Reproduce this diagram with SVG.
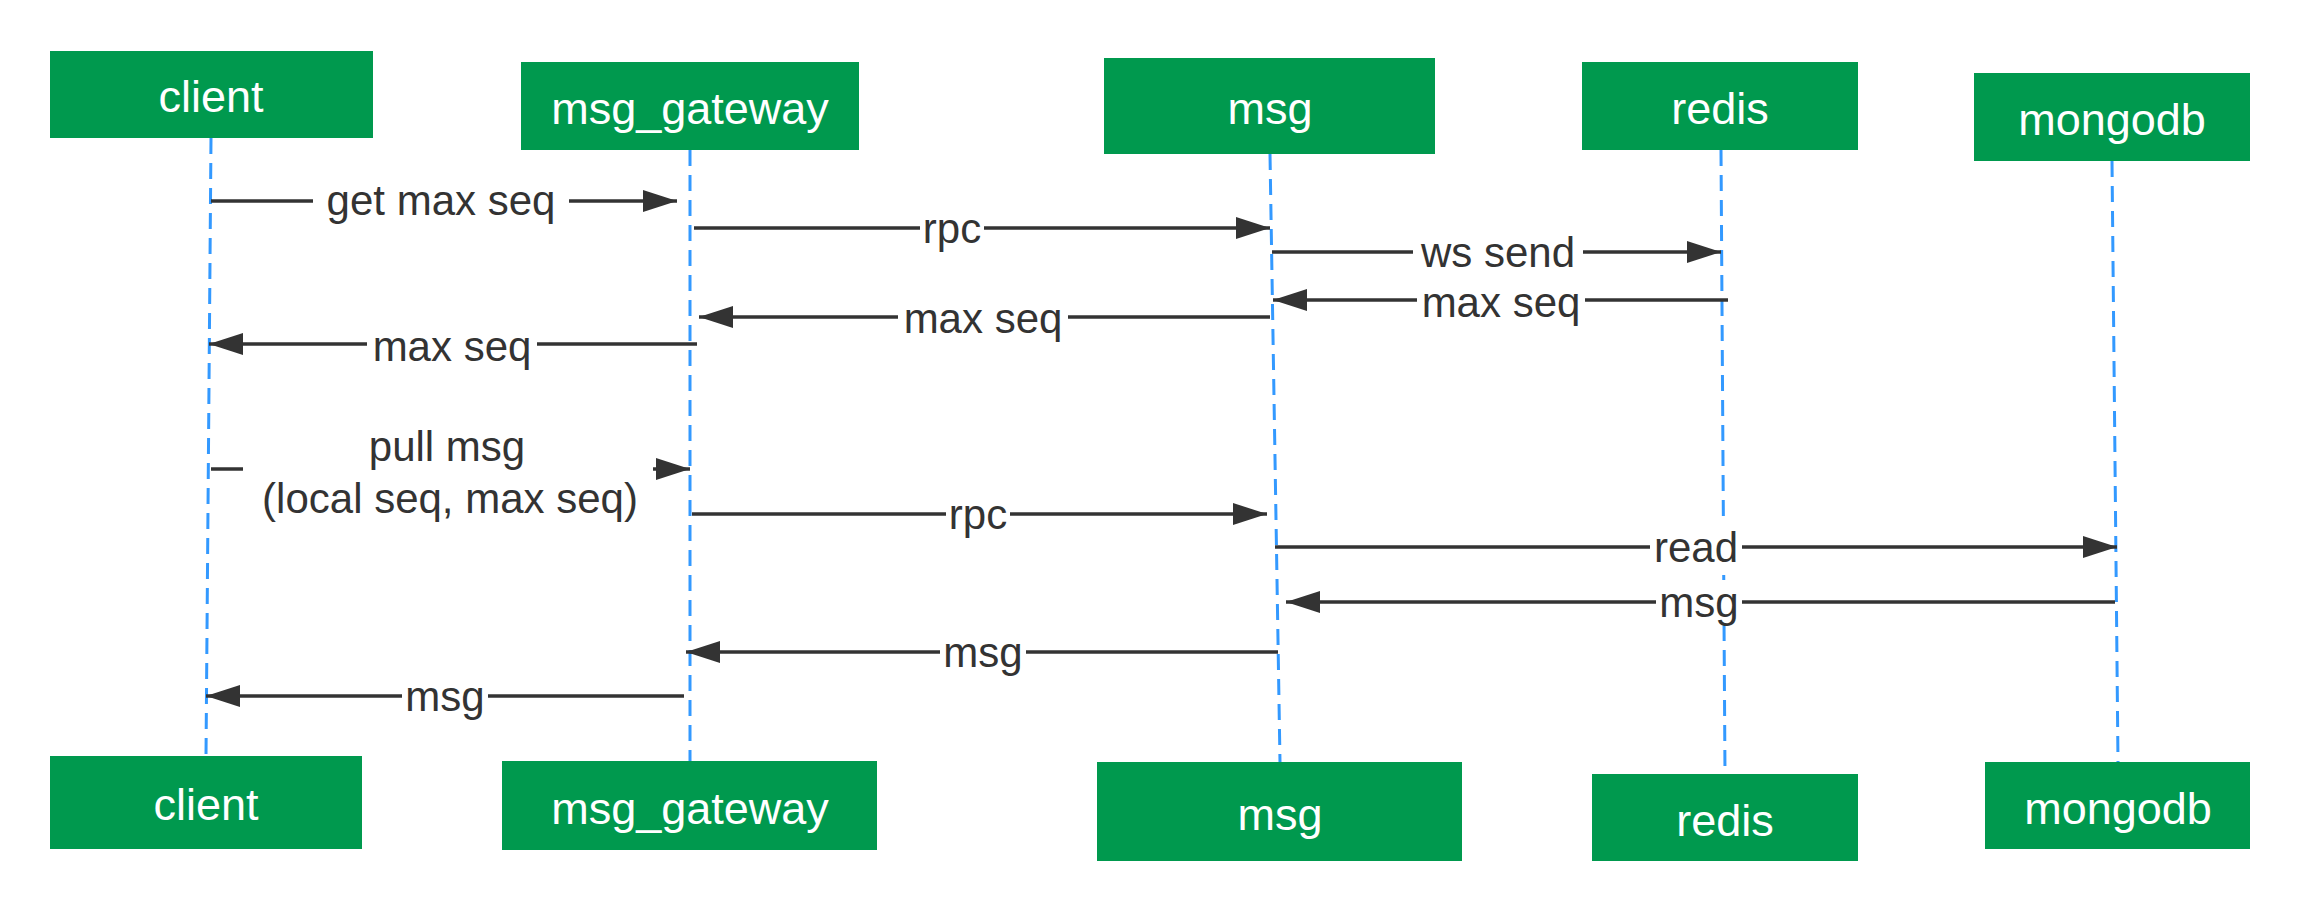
<svg xmlns="http://www.w3.org/2000/svg" width="2299" height="912" viewBox="0 0 2299 912">
<style>
.box{fill:#00994e}
.nl{fill:#fff;font-family:"Liberation Sans",Arial,sans-serif;font-size:45px;text-anchor:middle;dominant-baseline:central}
.life{stroke:#3399ff;stroke-width:3;stroke-dasharray:16 9;fill:none}
.msg{stroke:#333;stroke-width:3.5;fill:none;marker-end:url(#ah)}
.lb{fill:#333;font-family:"Liberation Sans",Arial,sans-serif;font-size:42px;text-anchor:middle;dominant-baseline:central}
.bg{fill:#fff}
</style>
<defs><marker id="ah" markerWidth="12" markerHeight="10" refX="11" refY="5" orient="auto" markerUnits="userSpaceOnUse" viewBox="0 0 12 10"><path d="M0,0L12,5L0,10z" fill="#333"/></marker>
<marker id="ah2" markerWidth="34" markerHeight="22" refX="34" refY="11" orient="auto" markerUnits="userSpaceOnUse"><path d="M0,0L34,11L0,22z" fill="#333"/></marker></defs>
<rect width="2299" height="912" fill="#fff"/>
<g id="lifelines">
<line class="life" x1="211" y1="138" x2="206" y2="756"/>
<line class="life" x1="690" y1="150" x2="690" y2="761"/>
<line class="life" x1="1270" y1="154" x2="1280" y2="762"/>
<line class="life" x1="1721" y1="150" x2="1725" y2="774"/>
<line class="life" x1="2112" y1="161" x2="2118" y2="762"/>
</g>
<g id="connectors" style="marker-end:url(#ah2)">
<line class="msg" style="marker-end:url(#ah2)" x1="211" y1="201" x2="677" y2="201"/>
<line class="msg" style="marker-end:url(#ah2)" x1="694" y1="228" x2="1270" y2="228"/>
<line class="msg" style="marker-end:url(#ah2)" x1="1272" y1="252" x2="1721" y2="252"/>
<line class="msg" style="marker-end:url(#ah2)" x1="1728" y1="300" x2="1273" y2="300"/>
<line class="msg" style="marker-end:url(#ah2)" x1="1270" y1="317" x2="699" y2="317"/>
<line class="msg" style="marker-end:url(#ah2)" x1="697" y1="344" x2="209" y2="344"/>
<line class="msg" style="marker-end:url(#ah2)" x1="211" y1="469" x2="690" y2="469"/>
<line class="msg" style="marker-end:url(#ah2)" x1="692" y1="514" x2="1267" y2="514"/>
<line class="msg" style="marker-end:url(#ah2)" x1="1275" y1="547" x2="2117" y2="547"/>
<line class="msg" style="marker-end:url(#ah2)" x1="2115" y1="602" x2="1286" y2="602"/>
<line class="msg" style="marker-end:url(#ah2)" x1="1278" y1="652" x2="686" y2="652"/>
<line class="msg" style="marker-end:url(#ah2)" x1="684" y1="696" x2="206" y2="696"/>
<rect class="bg" x="313" y="178" width="256" height="46"/><text class="lb" x="441" y="200">get max seq</text>
<rect class="bg" x="920" y="206" width="64" height="44"/><text class="lb" x="952" y="228">rpc</text>
<rect class="bg" x="1413" y="230" width="170" height="44"/><text class="lb" x="1498" y="252">ws send</text>
<rect class="bg" x="1417" y="280" width="168" height="40"/><text class="lb" x="1501" y="302">max seq</text>
<rect class="bg" x="898" y="296" width="170" height="42"/><text class="lb" x="983" y="318">max seq</text>
<rect class="bg" x="367" y="323" width="170" height="42"/><text class="lb" x="452" y="346">max seq</text>
<rect class="bg" x="243" y="420" width="410" height="104"/>
<text class="lb" x="447" y="446">pull msg</text><text class="lb" x="450" y="498">(local seq, max seq)</text>
<rect class="bg" x="946" y="492" width="64" height="44"/><text class="lb" x="978" y="514">rpc</text>
<rect class="bg" x="1650" y="525" width="92" height="44"/><text class="lb" x="1696" y="547">read</text>
<rect class="bg" x="1656" y="580" width="86" height="44"/><text class="lb" x="1699" y="602">msg</text>
<rect class="bg" x="940" y="630" width="86" height="44"/><text class="lb" x="983" y="652">msg</text>
<rect class="bg" x="402" y="674" width="86" height="44"/><text class="lb" x="445" y="696">msg</text>
</g>
<g id="client-top"><rect class="box" x="50" y="51" width="323" height="87"/><text class="nl" x="211" y="96">client</text></g>
<g id="gateway-top"><rect class="box" x="521" y="62" width="338" height="88"/><text class="nl" x="690" y="108">msg_gateway</text></g>
<g id="msg-top"><rect class="box" x="1104" y="58" width="331" height="96"/><text class="nl" x="1270" y="108">msg</text></g>
<g id="redis-top"><rect class="box" x="1582" y="62" width="276" height="88"/><text class="nl" x="1720" y="108">redis</text></g>
<g id="mongodb-top"><rect class="box" x="1974" y="73" width="276" height="88"/><text class="nl" x="2112" y="119">mongodb</text></g>
<g id="client-bottom"><rect class="box" x="50" y="756" width="312" height="93"/><text class="nl" x="206" y="804">client</text></g>
<g id="gateway-bottom"><rect class="box" x="502" y="761" width="375" height="89"/><text class="nl" x="690" y="808">msg_gateway</text></g>
<g id="msg-bottom"><rect class="box" x="1097" y="762" width="365" height="99"/><text class="nl" x="1280" y="814">msg</text></g>
<g id="redis-bottom"><rect class="box" x="1592" y="774" width="266" height="87"/><text class="nl" x="1725" y="820">redis</text></g>
<g id="mongodb-bottom"><rect class="box" x="1985" y="762" width="265" height="87"/><text class="nl" x="2118" y="808">mongodb</text></g>
</svg>
